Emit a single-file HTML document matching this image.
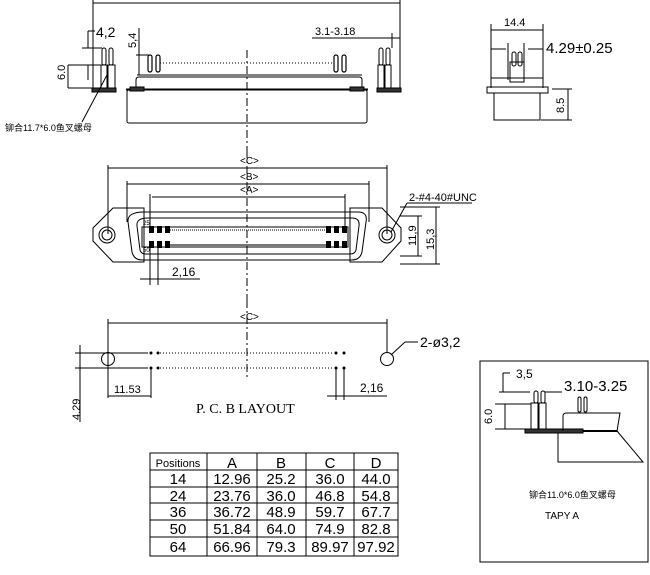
<!DOCTYPE html>
<html><head><meta charset="utf-8"><style>
html,body{margin:0;padding:0;background:#fff;width:650px;height:575px;overflow:hidden}
svg{display:block}
text{font-family:"Liberation Sans","Noto Sans CJK SC",sans-serif;fill:#000;stroke:none}
</style></head><body>
<svg width="650" height="575" viewBox="0 0 650 575" xmlns="http://www.w3.org/2000/svg" stroke="#000" fill="none" stroke-width="1">
<!-- TOP VIEW -->
<line x1="93" y1="0" x2="93" y2="88"/><line x1="400" y1="0" x2="400" y2="88"/>
<line x1="93" y1="3" x2="400" y2="3"/>
<line x1="247" y1="50" x2="247" y2="150" stroke-dasharray="8,3,2,3"/>
<rect x="92" y="88" width="24" height="4" fill="#333"/>
<rect x="101" y="65" width="6" height="23"/><rect x="108" y="65" width="7" height="23"/>
<rect x="102" y="48" width="4" height="17" rx="2"/><rect x="109" y="48" width="4" height="17" rx="2"/>
<line x1="88" y1="31" x2="88" y2="48"/><line x1="88" y1="31" x2="95" y2="31"/>
<line x1="82" y1="48" x2="102" y2="48"/><line x1="82" y1="65" x2="102" y2="65"/>
<line x1="68" y1="65" x2="101" y2="65"/><line x1="68" y1="88" x2="92" y2="88"/>
<line x1="68" y1="65" x2="68" y2="88"/><line x1="88" y1="65" x2="88" y2="80"/>
<text x="96" y="37" font-size="14">4,2</text>
<text x="0" y="0" font-size="11" transform="translate(65,80) rotate(-90)">6.0</text>
<line x1="82" y1="122" x2="107" y2="75"/>
<text x="5" y="131" font-size="9">铆合11.7*6.0鱼叉螺母</text>
<line x1="139" y1="28" x2="139" y2="75"/><line x1="136" y1="55" x2="150" y2="55"/>
<text x="0" y="0" font-size="11" transform="translate(136,48) rotate(-90)">5,4</text>
<path d="M136 88 V80 Q136 77 139 77 H359 Q362 77 362 80 V88"/>
<line x1="137" y1="75" x2="362" y2="75"/>
<line x1="126" y1="89.5" x2="368" y2="89.5" stroke-width="2"/>
<rect x="127" y="90" width="240" height="33" rx="2"/>
<rect x="130" y="87" width="14" height="4" fill="#333"/><rect x="350" y="87" width="14" height="4" fill="#333"/>
<g stroke-width="1.2">
<rect x="148" y="55" width="4" height="17" rx="2"/><rect x="156" y="55" width="4" height="17" rx="2"/>
<rect x="334" y="55" width="4" height="17" rx="2"/><rect x="342" y="55" width="4" height="17" rx="2"/>
</g>
<line x1="160" y1="63" x2="333" y2="63" stroke-dasharray="1,2"/>
<rect x="377" y="88" width="24" height="4" fill="#333"/>
<rect x="378" y="65" width="6" height="23"/><rect x="385" y="65" width="6" height="23"/>
<rect x="379" y="48" width="4" height="17" rx="2"/><rect x="386" y="48" width="4" height="17" rx="2"/>
<line x1="312" y1="38" x2="400" y2="38"/><line x1="392" y1="33" x2="392" y2="48"/>
<text x="315" y="35" font-size="11">3.1-3.18</text>
<!-- SIDE VIEW -->
<line x1="491" y1="24" x2="491" y2="88"/><line x1="543" y1="24" x2="543" y2="88"/>
<line x1="491" y1="30" x2="543" y2="30"/>
<text x="504" y="26" font-size="11">14.4</text>
<line x1="491" y1="49" x2="506" y2="49"/><line x1="528" y1="49" x2="543" y2="49"/>
<text x="546" y="53" font-size="15">4.29±0.25</text>
<line x1="508" y1="43" x2="508" y2="80"/><line x1="524" y1="43" x2="524" y2="80"/>
<rect x="512" y="52" width="4" height="14" rx="2"/><rect x="518" y="52" width="4" height="14" rx="2"/>
<rect x="510" y="62" width="14" height="20"/>
<line x1="491" y1="78" x2="543" y2="78"/>
<rect x="487" y="87" width="61" height="6"/>
<path d="M494 93 V120 H540 V93"/>
<line x1="552" y1="89" x2="572" y2="89"/><line x1="541" y1="120" x2="572" y2="120"/>
<line x1="568" y1="89" x2="568" y2="120"/>
<text x="0" y="0" font-size="11" transform="translate(564,113) rotate(-90)">8.5</text>
<!-- FRONT VIEW -->
<line x1="247" y1="150" x2="247" y2="300" stroke-dasharray="8,3,2,3"/>
<line x1="108" y1="168" x2="387" y2="168"/><line x1="108" y1="165" x2="108" y2="234"/><line x1="387" y1="165" x2="387" y2="234"/>
<line x1="127" y1="184" x2="369" y2="184"/><line x1="127" y1="181" x2="127" y2="222"/><line x1="369" y1="181" x2="369" y2="222"/>
<line x1="152" y1="197" x2="345" y2="197"/><line x1="150" y1="194" x2="150" y2="230"/><line x1="345" y1="194" x2="345" y2="230"/>
<text x="240" y="164" font-size="10">&lt;C&gt;</text>
<text x="240" y="180" font-size="10">&lt;B&gt;</text>
<text x="240" y="193" font-size="10">&lt;A&gt;</text>
<path d="M113 208 H144 V262 H113 L93 241 V228 Z"/>
<path d="M382 208 H350 V262 H382 L401 241 V228 Z"/>
<circle cx="107" cy="235" r="8"/><circle cx="107" cy="235" r="5"/>
<circle cx="387" cy="235" r="8"/><circle cx="387" cy="235" r="5"/>
<path d="M144 212 H358 Q368 212 366 222 L362 252 Q360 260 352 260 H142 Q134 260 132 252 L128 222 Q127 212 144 212 Z"/>
<path d="M148 218 H352 Q360 218 359 226 L356 250 Q355 254 350 254 H146 Q141 254 140 250 L137 226 Q136 218 148 218 Z"/>
<rect x="142" y="227" width="206" height="20"/>
<g fill="#000" stroke="none">
<rect x="149" y="226" width="5" height="7"/><rect x="157" y="226" width="5" height="7"/><rect x="165" y="226" width="5" height="7"/>
<rect x="149" y="241" width="5" height="7"/><rect x="157" y="241" width="5" height="7"/><rect x="165" y="241" width="5" height="7"/>
<rect x="326" y="226" width="5" height="7"/><rect x="334" y="226" width="5" height="7"/><rect x="342" y="226" width="5" height="7"/>
<rect x="326" y="241" width="5" height="7"/><rect x="334" y="241" width="5" height="7"/><rect x="342" y="241" width="5" height="7"/>
</g>
<line x1="170" y1="230" x2="326" y2="230" stroke-dasharray="1,1"/>
<line x1="170" y1="245" x2="326" y2="245" stroke-width="2" stroke="#777"/>
<text x="143" y="225" font-size="6">25</text><text x="143" y="252" font-size="6">50</text>
<line x1="150" y1="248" x2="150" y2="285"/><line x1="158" y1="248" x2="158" y2="285"/>
<line x1="140" y1="279" x2="200" y2="279"/>
<text x="172" y="276" font-size="12">2,16</text>
<line x1="400" y1="207" x2="440" y2="207"/><line x1="400" y1="264" x2="440" y2="264"/>
<line x1="400" y1="216" x2="422" y2="216"/><line x1="400" y1="256" x2="422" y2="256"/>
<line x1="418" y1="216" x2="418" y2="256"/><line x1="436" y1="207" x2="436" y2="264"/>
<text x="0" y="0" font-size="11" transform="translate(416,246) rotate(-90)">11,9</text>
<text x="0" y="0" font-size="11" transform="translate(434,250) rotate(-90)">15,3</text>
<line x1="391" y1="232" x2="407" y2="203"/><line x1="407" y1="203" x2="472" y2="203"/>
<text x="409" y="201" font-size="11">2-#4-40#UNC</text>
<!-- PCB -->
<line x1="247" y1="300" x2="247" y2="380" stroke-dasharray="8,3,2,3"/>
<line x1="108" y1="323" x2="387" y2="323"/><line x1="108" y1="319" x2="108" y2="398"/><line x1="387" y1="319" x2="387" y2="352"/>
<text x="240" y="320" font-size="10">&lt;C&gt;</text>
<circle cx="108" cy="359" r="6.5"/><circle cx="387" cy="359" r="6.5"/>
<line x1="75" y1="353" x2="148" y2="353"/><line x1="75" y1="368" x2="148" y2="368"/>
<line x1="80" y1="345" x2="80" y2="422"/>
<g fill="#000" stroke="none">
<circle cx="151" cy="353" r="1.5"/><circle cx="158" cy="353" r="1.5"/><circle cx="151" cy="368" r="1.5"/><circle cx="158" cy="368" r="1.5"/>
<circle cx="336" cy="353" r="1.5"/><circle cx="344" cy="353" r="1.5"/><circle cx="336" cy="368" r="1.5"/><circle cx="344" cy="368" r="1.5"/>
</g>
<line x1="160" y1="353" x2="334" y2="353" stroke-dasharray="1,2"/>
<line x1="160" y1="368" x2="334" y2="368" stroke-dasharray="1,2"/>
<line x1="151" y1="368" x2="151" y2="398"/><line x1="108" y1="396" x2="151" y2="396"/>
<text x="114" y="393" font-size="11">11.53</text>
<line x1="336" y1="368" x2="336" y2="400"/><line x1="344" y1="368" x2="344" y2="400"/>
<line x1="327" y1="396" x2="387" y2="396"/>
<text x="360" y="392" font-size="12">2,16</text>
<text x="0" y="0" font-size="11" transform="translate(80,420) rotate(-90)">4.29</text>
<text x="196" y="413" font-size="14" style="font-family:'Liberation Serif',serif">P. C. B  LAYOUT</text>
<line x1="391" y1="355" x2="405" y2="342"/><line x1="405" y1="342" x2="418" y2="342"/>
<text x="420" y="347" font-size="14">2-ø3,2</text>
<!-- TABLE -->
<rect x="150" y="453" width="248" height="103"/>
<line x1="150" y1="470" x2="398" y2="470"/><line x1="150" y1="487" x2="398" y2="487"/>
<line x1="150" y1="503" x2="398" y2="503"/><line x1="150" y1="520" x2="398" y2="520"/>
<line x1="150" y1="537" x2="398" y2="537"/>
<line x1="207" y1="453" x2="207" y2="556"/><line x1="257" y1="453" x2="257" y2="556"/>
<line x1="306" y1="453" x2="306" y2="556"/><line x1="354" y1="453" x2="354" y2="556"/>
<g font-size="15" text-anchor="middle">
<text x="178" y="467" font-size="11">Positions</text><text x="232" y="468">A</text><text x="281" y="468">B</text><text x="330" y="468">C</text><text x="376" y="468">D</text>
<text x="178" y="484">14</text><text x="232" y="484">12.96</text><text x="281" y="484">25.2</text><text x="330" y="484">36.0</text><text x="376" y="484">44.0</text>
<text x="178" y="501">24</text><text x="232" y="501">23.76</text><text x="281" y="501">36.0</text><text x="330" y="501">46.8</text><text x="376" y="501">54.8</text>
<text x="178" y="517">36</text><text x="232" y="517">36.72</text><text x="281" y="517">48.9</text><text x="330" y="517">59.7</text><text x="376" y="517">67.7</text>
<text x="178" y="534">50</text><text x="232" y="534">51.84</text><text x="281" y="534">64.0</text><text x="330" y="534">74.9</text><text x="376" y="534">82.8</text>
<text x="178" y="552">64</text><text x="232" y="552">66.96</text><text x="281" y="552">79.3</text><text x="330" y="552">89.97</text><text x="376" y="552">97.92</text>
</g>
<!-- TAPY A -->
<rect x="480" y="361" width="168" height="201"/>
<line x1="503" y1="373" x2="503" y2="392"/><line x1="503" y1="373" x2="510" y2="373"/>
<text x="516" y="378" font-size="12">3,5</text>
<line x1="499" y1="392" x2="530" y2="392"/><line x1="545" y1="392" x2="562" y2="392"/>
<text x="564" y="391" font-size="15">3.10-3.25</text>
<rect x="534" y="391" width="4" height="12" rx="2"/><rect x="541" y="391" width="4" height="12" rx="2"/>
<rect x="531" y="403" width="7" height="27"/><rect x="539" y="403" width="7" height="27"/>
<line x1="495" y1="404" x2="531" y2="404"/><line x1="495" y1="429" x2="525" y2="429"/>
<line x1="505" y1="404" x2="505" y2="429"/>
<text x="0" y="0" font-size="11" transform="translate(492,424) rotate(-90)">6.0</text>
<rect x="525" y="429" width="58" height="4" fill="#333"/>
<line x1="583" y1="431" x2="617" y2="431" stroke-width="2"/>
<path d="M563 431 V416 Q563 413 567 413 H620 L617 431"/>
<rect x="578" y="397" width="3" height="15" rx="1.5"/><rect x="584" y="397" width="3" height="15" rx="1.5"/>
<path d="M558 433 V462 H643 L617 431"/>
<text x="529" y="498" font-size="9">铆合11.0*6.0鱼叉螺母</text>
<text x="545" y="519" font-size="10">TAPY  A</text>
</svg>
</body></html>
